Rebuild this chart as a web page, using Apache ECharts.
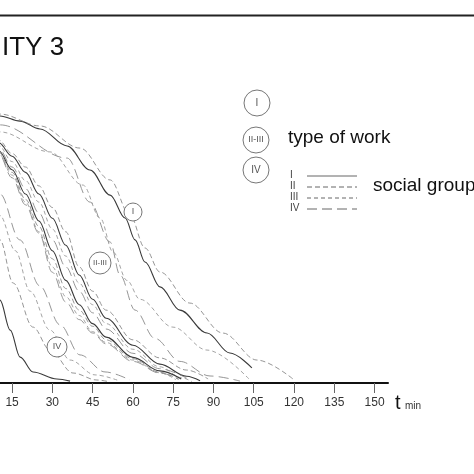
<!DOCTYPE html>
<html>
<head>
<meta charset="utf-8">
<script src="https://cdn.jsdelivr.net/npm/echarts@6/dist/echarts.min.js"></script>
<style>
  html, body { margin: 0; padding: 0; background: #fff; }
  #chart { width: 474px; height: 474px; }
</style>
</head>
<body>
<div id="chart"></div>
<script>
// x ticks (minutes); the left part of the axis is cut off in the picture
const tickValues = [15, 30, 45, 60, 75, 90, 105, 120, 135, 150];
const xStart = 10.5;
const xEnd = 155;

// type of work I  -- [t, % remaining]
const workI_social1 = [[0,100],[5,100],[10.5,98.9],[18,97],[25.4,94.1],[35.5,87.8],[44,78.9],[51.5,69.6],[57.1,61.1],[60.8,53],[64.5,44.8],[70.1,35.6],[77.5,27],[87.6,18.5],[96.1,11.1],[104.3,5.6]];
const workI_social2 = [[0,100],[10.5,99.6],[25.4,95.2],[40.3,87],[51.5,75.2],[58.9,62.2],[64.5,50],[70.1,41.1],[81.2,29.6],[93.5,18.5],[106.2,8.5],[119.6,1.5]];
const workI_social3 = [[0,98],[10.5,93],[29.1,85.6],[41.4,73.3],[47.8,61.1],[52.6,48.5],[57.8,38],[62.6,31],[74.9,20.7],[87.6,12.2],[103.6,1.1]];
const workI_social4 = [[0,99],[10.5,95.6],[35.5,83.3],[44,67],[51.5,52.2],[55.2,40],[60.8,27],[68.2,16.5],[77.5,8],[88.7,2.6],[99.9,0.7]];

// type of work II-III
const workII_social1 = [[0,98],[10,89],[15,84],[20,78],[25,70],[30,61],[35,51],[40,40],[45,31],[50,24],[60,14],[70,7],[80,2.5],[85,0.8]];
const workII_social2 = [[0,98],[10,90],[15,85],[20,80],[25,73],[30,65],[35,56],[40,43],[45,34],[50,27],[60,16],[70,9.3],[80,4.8],[88,1.5]];
const workII_social3 = [[0,97],[10,88],[15,82],[20,75],[25,67],[30,57],[35,47],[40,37],[45,29],[50,22],[60,12.5],[70,6],[78,2],[82,0.5]];
const workII_social4 = [[0,97],[10,87],[15,80],[20,72],[25,63],[30,53],[35,43],[40,34],[45,26],[50,20],[60,11],[70,5.3],[80,1.8]];
const workIII_social1 = [[0,96],[10,86],[15,79],[20,70],[25,60],[30,49],[35,38],[40,29],[45,22],[50,17],[60,9.5],[70,4.5],[78,1.5]];
const workIII_social2 = [[0,96],[10,85.5],[15,78],[20,68],[25,58],[30,46],[35,35],[40,27],[45,21],[50,16],[60,9],[70,4],[77,1.3]];
const workIII_social3 = [[0,95],[10,85],[15,77],[20,67],[25,56],[30,43],[35,32],[40,25],[45,19],[50,15],[60,8.5],[70,3.8],[76,1.2]];
const workIII_social4 = [[0,95],[10,85],[15,76],[20,66],[25,55.5],[30,41],[35,30],[40,23.5],[45,18.5],[50,14.5],[60,8],[70,3.7],[77,1.5]];

// type of work IV
const workIV_social1 = [[0,100],[5,92],[8,60],[10.5,30.7],[14.3,19.6],[18,9.6],[22.8,4.1],[31.7,1.5],[36.6,0.7]];
const workIV_social2 = [[0,100],[5,88],[10.5,53],[15.4,37],[22.8,20.7],[29.1,12.2],[37.7,3.7],[46.6,1.1],[51.5,0.4]];
const workIV_social3 = [[0,100],[5,90],[10.5,62],[16.2,49],[21.7,34],[29.1,19.6],[36.6,8.5],[45.9,3],[55.2,0.7]];
const workIV_social4 = [[0,100],[5,93],[10.5,70],[17.9,53],[25.3,36],[32.9,21.5],[40.3,10.4],[49.6,4.1],[58.9,1.1]];

// line look per social group
const socialStyle = {
  1: { type: "solid", color: "#3a3a3a", width: 1.1 },
  2: { type: [5, 3], color: "#8a8a8a", width: 0.9 },
  3: { type: [4, 3], color: "#9a9a9a", width: 0.9 },
  4: { type: [10, 5], color: "#8a8a8a", width: 0.9 },
};

const curves = [
  [workI_social1, 1], [workI_social2, 2], [workI_social3, 3], [workI_social4, 4],
  [workII_social1, 1], [workII_social2, 2], [workII_social3, 3], [workII_social4, 4],
  [workIII_social1, 1], [workIII_social2, 2], [workIII_social3, 3], [workIII_social4, 4],
  [workIV_social1, 1], [workIV_social2, 2], [workIV_social3, 3], [workIV_social4, 4],
];

const chart = echarts.init(document.getElementById("chart"));

const circleLabel = (cx, cy, r, text, fs) => ([
  { type: "circle", shape: { cx, cy, r }, style: { fill: "#fff", stroke: "#777", lineWidth: 1 }, z: 10 },
  { type: "text", x: cx, y: cy, style: { text, fill: "#555", font: `${fs}px "Liberation Sans", Arial`, align: "center", verticalAlign: "middle" }, z: 11 },
]);

const legendLine = (y, label, s) => ([
  { type: "text", x: 290, y, style: { text: label, fill: "#444", font: '10px "Liberation Sans", Arial', verticalAlign: "middle" } },
  { type: "line", shape: { x1: 307, y1: y + 1, x2: 357, y2: y + 1 }, style: { stroke: "#666", lineWidth: 1, lineDash: s.type === "solid" ? null : s.type } },
]);

chart.setOption({
  animation: false,
  backgroundColor: "#fff",
  grid: { left: 0, right: 86, top: 113, bottom: 91, containLabel: false },
  xAxis: {
    type: "value",
    min: xStart,
    max: xEnd,
    splitLine: { show: false },
    axisLine: { lineStyle: { color: "#111", width: 2 } },
    axisTick: { length: 10, customValues: tickValues, lineStyle: { color: "#666", width: 1 } },
    axisLabel: {
      margin: 14,
      color: "#333",
      fontSize: 12,
      fontFamily: '"Liberation Sans", Arial',
      customValues: tickValues,
    },
  },
  yAxis: { type: "value", min: 0, max: 100, show: false },
  series: curves.map(([data, g]) => ({
    type: "line",
    data,
    showSymbol: false,
    symbol: "none",
    smooth: 0.35,
    smoothMonotone: "x",
    lineStyle: { type: socialStyle[g].type, color: socialStyle[g].color, width: socialStyle[g].width },
  })),
  graphic: [
    { type: "line", shape: { x1: 0, y1: 15.5, x2: 474, y2: 15.5 }, style: { stroke: "#222", lineWidth: 2 } },
    { type: "text", x: 2, y: 48, style: { text: "ITY 3", fill: "#111", font: '26px "Liberation Sans", Arial', verticalAlign: "middle" } },
    ...circleLabel(257, 103, 13, "I", 10),
    ...circleLabel(256, 140, 13, "II-III", 9),
    ...circleLabel(256, 170, 13, "IV", 10),
    { type: "text", x: 288, y: 138, style: { text: "type of work", fill: "#111", font: '19px "Liberation Sans", Arial', verticalAlign: "middle" } },
    { type: "text", x: 373, y: 186, style: { text: "social group", fill: "#111", font: '19px "Liberation Sans", Arial', verticalAlign: "middle" } },
    ...legendLine(175, "I", socialStyle[1]),
    ...legendLine(186, "II", socialStyle[2]),
    ...legendLine(197, "III", socialStyle[3]),
    ...legendLine(208, "IV", socialStyle[4]),
    ...circleLabel(133, 212, 9, "I", 9),
    ...circleLabel(100, 263, 11, "II-III", 8),
    ...circleLabel(57, 347, 10, "IV", 9),
    { type: "text", x: 395, y: 403, style: { text: "t", fill: "#111", font: '20px "Liberation Sans", Arial', verticalAlign: "middle" } },
    { type: "text", x: 405, y: 406, style: { text: "min", fill: "#333", font: '10px "Liberation Sans", Arial', verticalAlign: "middle" } },
  ],
});
</script>
</body>
</html>
